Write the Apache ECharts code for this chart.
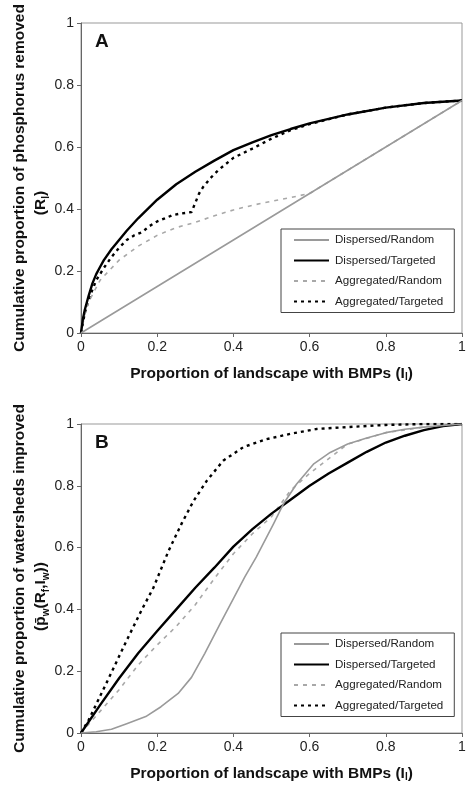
<!DOCTYPE html>
<html>
<head>
<meta charset="utf-8">
<script src="https://cdn.jsdelivr.net/npm/echarts@6/dist/echarts.min.js"></script>
<style>
html,body{margin:0;padding:0;background:#fff;}
#chart{width:474px;height:797px;}
</style>
</head>
<body>
<div id="chart"></div>
<script>
// ---- Data ----
const seriesNames = ['Dispersed/Random', 'Dispersed/Targeted', 'Aggregated/Random', 'Aggregated/Targeted'];

// Panel A
const aDRx = [0, 0.2, 0.4, 0.6, 0.8, 1];
const aDRy = [0, 0.15, 0.3, 0.45, 0.6, 0.75];
const aDTx = [0, 0.005, 0.01, 0.02, 0.03, 0.04, 0.05, 0.06, 0.08, 0.1, 0.12, 0.15, 0.2, 0.25, 0.3, 0.35, 0.4, 0.45, 0.5, 0.55, 0.6, 0.7, 0.8, 0.9, 1];
const aDTy = [0, 0.045, 0.075, 0.12, 0.16, 0.19, 0.213, 0.235, 0.27, 0.30, 0.33, 0.37, 0.43, 0.48, 0.52, 0.556, 0.59, 0.615, 0.638, 0.658, 0.676, 0.705, 0.727, 0.742, 0.75];
const aARx = [0, 0.01, 0.02, 0.05, 0.1, 0.15, 0.2, 0.25, 0.3, 0.35, 0.4, 0.45, 0.5, 0.55, 0.6, 0.7, 0.8, 0.9, 1];
const aARy = [0, 0.06, 0.1, 0.17, 0.235, 0.28, 0.315, 0.34, 0.357, 0.378, 0.397, 0.412, 0.425, 0.437, 0.45, 0.525, 0.6, 0.675, 0.75];
const aATx = [0, 0.01, 0.02, 0.03, 0.04, 0.05, 0.06, 0.08, 0.1, 0.12, 0.14, 0.16, 0.18, 0.2, 0.22, 0.24, 0.26, 0.29, 0.3, 0.31, 0.32, 0.34, 0.36, 0.38, 0.4, 0.45, 0.5, 0.55, 0.6, 0.7, 0.8, 0.9, 1];
const aATy = [0, 0.065, 0.105, 0.14, 0.17, 0.19, 0.21, 0.245, 0.275, 0.30, 0.315, 0.325, 0.345, 0.36, 0.37, 0.38, 0.385, 0.39, 0.42, 0.45, 0.47, 0.50, 0.525, 0.545, 0.565, 0.595, 0.627, 0.654, 0.674, 0.705, 0.727, 0.742, 0.75];

// Panel B
const bDRx = [0, 0.04, 0.08, 0.12, 0.17, 0.21, 0.255, 0.29, 0.325, 0.365, 0.4, 0.43, 0.46, 0.505, 0.531, 0.566, 0.61, 0.654, 0.7, 0.75, 0.8, 0.85, 0.9, 0.95, 1];
const bDRy = [0, 0.004, 0.012, 0.03, 0.053, 0.085, 0.128, 0.18, 0.258, 0.353, 0.435, 0.505, 0.569, 0.676, 0.741, 0.806, 0.87, 0.908, 0.935, 0.955, 0.972, 0.983, 0.99, 0.995, 1];
const bDTx = [0, 0.05, 0.1, 0.15, 0.2, 0.25, 0.3, 0.35, 0.4, 0.45, 0.5, 0.55, 0.6, 0.65, 0.7, 0.75, 0.8, 0.85, 0.9, 0.95, 1];
const bDTy = [0, 0.09, 0.177, 0.258, 0.33, 0.40, 0.47, 0.535, 0.603, 0.66, 0.71, 0.755, 0.80, 0.84, 0.875, 0.91, 0.94, 0.962, 0.98, 0.993, 1];
const bARx = [0, 0.05, 0.1, 0.15, 0.2, 0.25, 0.3, 0.35, 0.4, 0.45, 0.5, 0.55, 0.6, 0.7, 0.8, 0.9, 1];
const bARy = [0, 0.07, 0.14, 0.22, 0.285, 0.345, 0.415, 0.50, 0.58, 0.645, 0.70, 0.785, 0.84, 0.935, 0.972, 0.99, 1];
const bATx = [0, 0.02, 0.07, 0.12, 0.16, 0.19, 0.21, 0.23, 0.265, 0.295, 0.33, 0.373, 0.426, 0.487, 0.549, 0.619, 0.7, 0.8, 0.9, 1];
const bATy = [0, 0.042, 0.17, 0.30, 0.40, 0.47, 0.53, 0.59, 0.68, 0.75, 0.816, 0.881, 0.925, 0.951, 0.968, 0.984, 0.99, 0.997, 1, 1];

const xTitle = 'Proportion of landscape with BMPs (I{sub|l})';
const yTitleA = 'Cumulative proportion of phosphorus removed\n(R{sub|l}){spA| }';
const yTitleB = 'Cumulative proportion of watersheds improved\n(p\u0304{sub|w}(R{sub|f},I{sub|w})){spB| }';

// ---- Helpers ----
const zip = (xs, ys) => xs.map((x, i) => [x, ys[i]]);
const FONT = 'Liberation Sans, Arial, sans-serif';
const styles = [
  {color: '#9a9a9a', width: 1.6, type: 'solid'},
  {color: '#000000', width: 2.4, type: 'solid'},
  {color: '#a8a8a8', width: 1.6, type: [4, 5]},
  {color: '#000000', width: 2.4, type: [3, 4]}
];
const dataSets = [
  [zip(aDRx, aDRy), zip(aDTx, aDTy), zip(aARx, aARy), zip(aATx, aATy)],
  [zip(bDRx, bDRy), zip(bDTx, bDTy), zip(bARx, bARy), zip(bATx, bATy)]
];

const grids = [
  {left: 81, top: 23, width: 381, height: 310},
  {left: 81, top: 424, width: 381, height: 309}
];
const nameRich = {
  sub: {fontSize: 10, fontWeight: 'bold', fontFamily: FONT, color: '#111', padding: [7, 0, 0, 0], verticalAlign: 'bottom'},
  spA: {width: 50, fontSize: 10},
  spB: {width: 36, fontSize: 10}
};

function xAxis(i) {
  return {
    type: 'value', gridIndex: i, min: 0, max: 1, interval: 0.2,
    name: xTitle, nameLocation: 'middle', nameGap: 32, nameMoveOverlap: false,
    nameTextStyle: {fontSize: 15.5, fontWeight: 'bold', color: '#111', fontFamily: FONT, rich: nameRich},
    axisLine: {lineStyle: {color: '#666', width: 1}},
    axisTick: {show: true, inside: false, length: 4, lineStyle: {color: '#666'}},
    axisLabel: {fontSize: 14, color: '#222', fontFamily: FONT, margin: 7},
    splitLine: {show: false}
  };
}
function yAxis(i, title) {
  return {
    type: 'value', gridIndex: i, min: 0, max: 1, interval: 0.2,
    name: title, nameLocation: 'middle', nameGap: 30, nameRotate: 90, nameMoveOverlap: false,
    nameTextStyle: {fontSize: 15.5, fontWeight: 'bold', color: '#111', fontFamily: FONT, lineHeight: 21, rich: nameRich},
    axisLine: {lineStyle: {color: '#666', width: 1}},
    axisTick: {show: true, inside: false, length: 4, lineStyle: {color: '#666'}},
    axisLabel: {fontSize: 14, color: '#222', fontFamily: FONT, margin: 7},
    splitLine: {show: false}
  };
}

const series = [];
for (let g = 0; g < 2; g++) {
  for (let s = 0; s < 4; s++) {
    series.push({
      type: 'line', name: seriesNames[s], xAxisIndex: g, yAxisIndex: g,
      data: dataSets[g][s], symbol: 'none', showSymbol: false,
      smooth: false,
      lineStyle: {color: styles[s].color, width: styles[s].width, type: styles[s].type, join: 'round'},
      itemStyle: {color: styles[s].color},
      z: 10 - s, animation: false
    });
  }
}

function legend(top) {
  return {
    data: seriesNames, orient: 'vertical', left: 281, top: top,
    itemWidth: 35, itemHeight: 14, itemGap: 8.5,
    padding: [5, 11, 5, 12],
    borderColor: '#444', borderWidth: 1,
    itemStyle: {color: 'transparent', borderColor: 'transparent', borderWidth: 0},
    textStyle: {fontSize: 11.6, color: '#222', fontFamily: FONT, padding: [0, 0, 0, 1]},
    selectedMode: false
  };
}

const chart = echarts.init(document.getElementById('chart'), null, {renderer: 'canvas'});
chart.setOption({
  animation: false,
  backgroundColor: '#fff',
  grid: grids.map(g => Object.assign({show: true, borderColor: '#999', borderWidth: 1, containLabel: false, outerBoundsMode: 'none'}, g)),
  xAxis: [xAxis(0), xAxis(1)],
  yAxis: [yAxis(0, yTitleA), yAxis(1, yTitleB)],
  legend: [legend(229), legend(633)],
  title: [
    {text: 'A', left: 95, top: 32, padding: 0, textStyle: {fontSize: 19, fontWeight: 'bold', color: '#111', fontFamily: FONT}},
    {text: 'B', left: 95, top: 433, padding: 0, textStyle: {fontSize: 19, fontWeight: 'bold', color: '#111', fontFamily: FONT}}
  ],
  series: series
});
</script>
</body>
</html>
